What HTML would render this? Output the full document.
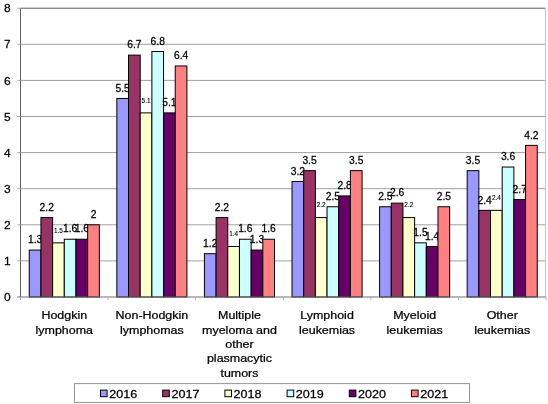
<!DOCTYPE html>
<html><head><meta charset="utf-8"><title>Chart</title>
<style>html,body{margin:0;padding:0;background:#fff}svg{display:block}</style></head>
<body>
<svg width="548" height="404" viewBox="0 0 548 404" font-family="'Liberation Sans', sans-serif" fill="#000" stroke="#000" stroke-width="0">
<rect width="548" height="404" fill="#fff"/>
<line x1="20.5" y1="260.90" x2="545.5" y2="260.90" stroke="#a0a0a0" stroke-width="1"/>
<line x1="20.5" y1="224.80" x2="545.5" y2="224.80" stroke="#a0a0a0" stroke-width="1"/>
<line x1="20.5" y1="188.70" x2="545.5" y2="188.70" stroke="#a0a0a0" stroke-width="1"/>
<line x1="20.5" y1="152.60" x2="545.5" y2="152.60" stroke="#a0a0a0" stroke-width="1"/>
<line x1="20.5" y1="116.50" x2="545.5" y2="116.50" stroke="#a0a0a0" stroke-width="1"/>
<line x1="20.5" y1="80.40" x2="545.5" y2="80.40" stroke="#a0a0a0" stroke-width="1"/>
<line x1="20.5" y1="44.30" x2="545.5" y2="44.30" stroke="#a0a0a0" stroke-width="1"/>
<line x1="20.5" y1="8.20" x2="545.5" y2="8.20" stroke="#606060" stroke-width="1"/>
<line x1="545.5" y1="8.20" x2="545.5" y2="297.00" stroke="#c4c4c4" stroke-width="1"/>
<rect x="29.26" y="250.07" width="11.68" height="46.93" fill="#9999FF" stroke="#000" stroke-width="1"/>
<rect x="116.84" y="98.45" width="11.68" height="198.55" fill="#9999FF" stroke="#000" stroke-width="1"/>
<rect x="204.42" y="253.68" width="11.68" height="43.32" fill="#9999FF" stroke="#000" stroke-width="1"/>
<rect x="292.01" y="181.48" width="11.68" height="115.52" fill="#9999FF" stroke="#000" stroke-width="1"/>
<rect x="379.59" y="206.75" width="11.68" height="90.25" fill="#9999FF" stroke="#000" stroke-width="1"/>
<rect x="467.17" y="170.65" width="11.68" height="126.35" fill="#9999FF" stroke="#000" stroke-width="1"/>
<text transform="translate(35.10,243.27) scale(1.02,1)" font-size="10.1" stroke-width="0.25" text-anchor="middle">1.3</text>
<text transform="translate(122.68,91.65) scale(1.02,1)" font-size="10.1" stroke-width="0.25" text-anchor="middle">5.5</text>
<text transform="translate(210.26,246.88) scale(1.02,1)" font-size="10.1" stroke-width="0.25" text-anchor="middle">1.2</text>
<text transform="translate(297.85,174.68) scale(1.02,1)" font-size="10.1" stroke-width="0.25" text-anchor="middle">3.2</text>
<text transform="translate(385.43,199.95) scale(1.02,1)" font-size="10.1" stroke-width="0.25" text-anchor="middle">2.5</text>
<text transform="translate(473.01,163.85) scale(1.02,1)" font-size="10.1" stroke-width="0.25" text-anchor="middle">3.5</text>
<rect x="40.94" y="217.58" width="11.68" height="79.42" fill="#993366" stroke="#000" stroke-width="1"/>
<rect x="128.52" y="55.13" width="11.68" height="241.87" fill="#993366" stroke="#000" stroke-width="1"/>
<rect x="216.10" y="217.58" width="11.68" height="79.42" fill="#993366" stroke="#000" stroke-width="1"/>
<rect x="303.69" y="170.65" width="11.68" height="126.35" fill="#993366" stroke="#000" stroke-width="1"/>
<rect x="391.27" y="203.14" width="11.68" height="93.86" fill="#993366" stroke="#000" stroke-width="1"/>
<rect x="478.85" y="210.36" width="11.68" height="86.64" fill="#993366" stroke="#000" stroke-width="1"/>
<text transform="translate(46.77,210.78) scale(1.02,1)" font-size="10.1" stroke-width="0.25" text-anchor="middle">2.2</text>
<text transform="translate(134.36,48.33) scale(1.02,1)" font-size="10.1" stroke-width="0.25" text-anchor="middle">6.7</text>
<text transform="translate(221.94,210.78) scale(1.02,1)" font-size="10.1" stroke-width="0.25" text-anchor="middle">2.2</text>
<text transform="translate(309.53,163.85) scale(1.02,1)" font-size="10.1" stroke-width="0.25" text-anchor="middle">3.5</text>
<text transform="translate(397.11,196.34) scale(1.02,1)" font-size="10.1" stroke-width="0.25" text-anchor="middle">2.6</text>
<text transform="translate(484.69,203.56) scale(1.02,1)" font-size="10.1" stroke-width="0.25" text-anchor="middle">2.4</text>
<rect x="52.61" y="242.85" width="11.68" height="54.15" fill="#FFFFCC" stroke="#000" stroke-width="1"/>
<rect x="140.20" y="112.89" width="11.68" height="184.11" fill="#FFFFCC" stroke="#000" stroke-width="1"/>
<rect x="227.78" y="246.46" width="11.68" height="50.54" fill="#FFFFCC" stroke="#000" stroke-width="1"/>
<rect x="315.36" y="217.58" width="11.68" height="79.42" fill="#FFFFCC" stroke="#000" stroke-width="1"/>
<rect x="402.95" y="217.58" width="11.68" height="79.42" fill="#FFFFCC" stroke="#000" stroke-width="1"/>
<rect x="490.53" y="210.36" width="11.68" height="86.64" fill="#FFFFCC" stroke="#000" stroke-width="1"/>
<text transform="translate(58.45,232.55) scale(1.02,1)" font-size="6.3" stroke-width="0.1" text-anchor="middle">1.5</text>
<text transform="translate(146.04,102.59) scale(1.02,1)" font-size="6.3" stroke-width="0.1" text-anchor="middle">5.1</text>
<text transform="translate(233.62,236.16) scale(1.02,1)" font-size="6.3" stroke-width="0.1" text-anchor="middle">1.4</text>
<text transform="translate(321.20,207.28) scale(1.02,1)" font-size="6.3" stroke-width="0.1" text-anchor="middle">2.2</text>
<text transform="translate(408.79,207.28) scale(1.02,1)" font-size="6.3" stroke-width="0.1" text-anchor="middle">2.2</text>
<text transform="translate(496.37,200.06) scale(1.02,1)" font-size="6.3" stroke-width="0.1" text-anchor="middle">2.4</text>
<rect x="64.29" y="239.24" width="11.68" height="57.76" fill="#CCFFFF" stroke="#000" stroke-width="1"/>
<rect x="151.88" y="51.52" width="11.68" height="245.48" fill="#CCFFFF" stroke="#000" stroke-width="1"/>
<rect x="239.46" y="239.24" width="11.68" height="57.76" fill="#CCFFFF" stroke="#000" stroke-width="1"/>
<rect x="327.04" y="206.75" width="11.68" height="90.25" fill="#CCFFFF" stroke="#000" stroke-width="1"/>
<rect x="414.62" y="242.85" width="11.68" height="54.15" fill="#CCFFFF" stroke="#000" stroke-width="1"/>
<rect x="502.21" y="167.04" width="11.68" height="129.96" fill="#CCFFFF" stroke="#000" stroke-width="1"/>
<text transform="translate(70.13,232.44) scale(1.02,1)" font-size="10.1" stroke-width="0.25" text-anchor="middle">1.6</text>
<text transform="translate(157.71,44.72) scale(1.02,1)" font-size="10.1" stroke-width="0.25" text-anchor="middle">6.8</text>
<text transform="translate(245.30,232.44) scale(1.02,1)" font-size="10.1" stroke-width="0.25" text-anchor="middle">1.6</text>
<text transform="translate(332.88,199.95) scale(1.02,1)" font-size="10.1" stroke-width="0.25" text-anchor="middle">2.5</text>
<text transform="translate(420.46,236.05) scale(1.02,1)" font-size="10.1" stroke-width="0.25" text-anchor="middle">1.5</text>
<text transform="translate(508.05,160.24) scale(1.02,1)" font-size="10.1" stroke-width="0.25" text-anchor="middle">3.6</text>
<rect x="75.97" y="239.24" width="11.68" height="57.76" fill="#660066" stroke="#000" stroke-width="1"/>
<rect x="163.55" y="112.89" width="11.68" height="184.11" fill="#660066" stroke="#000" stroke-width="1"/>
<rect x="251.14" y="250.07" width="11.68" height="46.93" fill="#660066" stroke="#000" stroke-width="1"/>
<rect x="338.72" y="195.92" width="11.68" height="101.08" fill="#660066" stroke="#000" stroke-width="1"/>
<rect x="426.30" y="246.46" width="11.68" height="50.54" fill="#660066" stroke="#000" stroke-width="1"/>
<rect x="513.89" y="199.53" width="11.68" height="97.47" fill="#660066" stroke="#000" stroke-width="1"/>
<text transform="translate(81.81,232.44) scale(1.02,1)" font-size="10.1" stroke-width="0.25" text-anchor="middle">1.6</text>
<text transform="translate(169.39,106.09) scale(1.02,1)" font-size="10.1" stroke-width="0.25" text-anchor="middle">5.1</text>
<text transform="translate(256.97,243.27) scale(1.02,1)" font-size="10.1" stroke-width="0.25" text-anchor="middle">1.3</text>
<text transform="translate(344.56,189.12) scale(1.02,1)" font-size="10.1" stroke-width="0.25" text-anchor="middle">2.8</text>
<text transform="translate(432.14,239.66) scale(1.02,1)" font-size="10.1" stroke-width="0.25" text-anchor="middle">1.4</text>
<text transform="translate(519.72,192.73) scale(1.02,1)" font-size="10.1" stroke-width="0.25" text-anchor="middle">2.7</text>
<rect x="87.65" y="224.80" width="11.68" height="72.20" fill="#FF8080" stroke="#000" stroke-width="1"/>
<rect x="175.23" y="65.96" width="11.68" height="231.04" fill="#FF8080" stroke="#000" stroke-width="1"/>
<rect x="262.81" y="239.24" width="11.68" height="57.76" fill="#FF8080" stroke="#000" stroke-width="1"/>
<rect x="350.40" y="170.65" width="11.68" height="126.35" fill="#FF8080" stroke="#000" stroke-width="1"/>
<rect x="437.98" y="206.75" width="11.68" height="90.25" fill="#FF8080" stroke="#000" stroke-width="1"/>
<rect x="525.56" y="145.38" width="11.68" height="151.62" fill="#FF8080" stroke="#000" stroke-width="1"/>
<text transform="translate(93.49,218.00) scale(1.02,1)" font-size="10.1" stroke-width="0.25" text-anchor="middle">2</text>
<text transform="translate(181.07,59.16) scale(1.02,1)" font-size="10.1" stroke-width="0.25" text-anchor="middle">6.4</text>
<text transform="translate(268.65,232.44) scale(1.02,1)" font-size="10.1" stroke-width="0.25" text-anchor="middle">1.6</text>
<text transform="translate(356.24,163.85) scale(1.02,1)" font-size="10.1" stroke-width="0.25" text-anchor="middle">3.5</text>
<text transform="translate(443.82,199.95) scale(1.02,1)" font-size="10.1" stroke-width="0.25" text-anchor="middle">2.5</text>
<text transform="translate(531.40,138.58) scale(1.02,1)" font-size="10.1" stroke-width="0.25" text-anchor="middle">4.2</text>
<line x1="20.5" y1="8.20" x2="20.5" y2="300.00" stroke="#606060" stroke-width="1"/>
<line x1="17.5" y1="297.00" x2="545.5" y2="297.00" stroke="#707070" stroke-width="1"/>
<line x1="17.3" y1="297.00" x2="20.5" y2="297.00" stroke="#b0b0b0" stroke-width="1"/>
<text transform="translate(7.30,301.10) scale(1.04,1)" font-size="11.5" stroke-width="0.25" text-anchor="middle">0</text>
<line x1="17.3" y1="260.90" x2="20.5" y2="260.90" stroke="#b0b0b0" stroke-width="1"/>
<text transform="translate(7.30,265.00) scale(1.04,1)" font-size="11.5" stroke-width="0.25" text-anchor="middle">1</text>
<line x1="17.3" y1="224.80" x2="20.5" y2="224.80" stroke="#b0b0b0" stroke-width="1"/>
<text transform="translate(7.30,228.90) scale(1.04,1)" font-size="11.5" stroke-width="0.25" text-anchor="middle">2</text>
<line x1="17.3" y1="188.70" x2="20.5" y2="188.70" stroke="#b0b0b0" stroke-width="1"/>
<text transform="translate(7.30,192.80) scale(1.04,1)" font-size="11.5" stroke-width="0.25" text-anchor="middle">3</text>
<line x1="17.3" y1="152.60" x2="20.5" y2="152.60" stroke="#b0b0b0" stroke-width="1"/>
<text transform="translate(7.30,156.70) scale(1.04,1)" font-size="11.5" stroke-width="0.25" text-anchor="middle">4</text>
<line x1="17.3" y1="116.50" x2="20.5" y2="116.50" stroke="#b0b0b0" stroke-width="1"/>
<text transform="translate(7.30,120.60) scale(1.04,1)" font-size="11.5" stroke-width="0.25" text-anchor="middle">5</text>
<line x1="17.3" y1="80.40" x2="20.5" y2="80.40" stroke="#b0b0b0" stroke-width="1"/>
<text transform="translate(7.30,84.50) scale(1.04,1)" font-size="11.5" stroke-width="0.25" text-anchor="middle">6</text>
<line x1="17.3" y1="44.30" x2="20.5" y2="44.30" stroke="#b0b0b0" stroke-width="1"/>
<text transform="translate(7.30,48.40) scale(1.04,1)" font-size="11.5" stroke-width="0.25" text-anchor="middle">7</text>
<line x1="17.3" y1="8.20" x2="20.5" y2="8.20" stroke="#b0b0b0" stroke-width="1"/>
<text transform="translate(7.30,12.30) scale(1.04,1)" font-size="11.5" stroke-width="0.25" text-anchor="middle">8</text>
<line x1="20.50" y1="297.00" x2="20.50" y2="300.20" stroke="#b0b0b0" stroke-width="1"/>
<line x1="108.08" y1="297.00" x2="108.08" y2="300.20" stroke="#b0b0b0" stroke-width="1"/>
<line x1="195.67" y1="297.00" x2="195.67" y2="300.20" stroke="#b0b0b0" stroke-width="1"/>
<line x1="283.25" y1="297.00" x2="283.25" y2="300.20" stroke="#b0b0b0" stroke-width="1"/>
<line x1="370.83" y1="297.00" x2="370.83" y2="300.20" stroke="#b0b0b0" stroke-width="1"/>
<line x1="458.42" y1="297.00" x2="458.42" y2="300.20" stroke="#b0b0b0" stroke-width="1"/>
<line x1="546.00" y1="297.00" x2="546.00" y2="300.20" stroke="#b0b0b0" stroke-width="1"/>
<text transform="translate(64.29,319.30) scale(1.065,1)" font-size="11.7" stroke-width="0.25" text-anchor="middle">Hodgkin</text>
<text transform="translate(64.29,333.60) scale(1.065,1)" font-size="11.7" stroke-width="0.25" text-anchor="middle">lymphoma</text>
<text transform="translate(151.88,319.30) scale(1.065,1)" font-size="11.7" stroke-width="0.25" text-anchor="middle">Non-Hodgkin</text>
<text transform="translate(151.88,333.60) scale(1.065,1)" font-size="11.7" stroke-width="0.25" text-anchor="middle">lymphomas</text>
<text transform="translate(239.46,319.30) scale(1.065,1)" font-size="11.7" stroke-width="0.25" text-anchor="middle">Multiple</text>
<text transform="translate(239.46,333.60) scale(1.065,1)" font-size="11.7" stroke-width="0.25" text-anchor="middle">myeloma and</text>
<text transform="translate(239.46,347.90) scale(1.065,1)" font-size="11.7" stroke-width="0.25" text-anchor="middle">other</text>
<text transform="translate(239.46,362.20) scale(1.065,1)" font-size="11.7" stroke-width="0.25" text-anchor="middle">plasmacytic</text>
<text transform="translate(239.46,376.50) scale(1.065,1)" font-size="11.7" stroke-width="0.25" text-anchor="middle">tumors</text>
<text transform="translate(327.04,319.30) scale(1.065,1)" font-size="11.7" stroke-width="0.25" text-anchor="middle">Lymphoid</text>
<text transform="translate(327.04,333.60) scale(1.065,1)" font-size="11.7" stroke-width="0.25" text-anchor="middle">leukemias</text>
<text transform="translate(414.62,319.30) scale(1.065,1)" font-size="11.7" stroke-width="0.25" text-anchor="middle">Myeloid</text>
<text transform="translate(414.62,333.60) scale(1.065,1)" font-size="11.7" stroke-width="0.25" text-anchor="middle">leukemias</text>
<text transform="translate(502.21,319.30) scale(1.065,1)" font-size="11.7" stroke-width="0.25" text-anchor="middle">Other</text>
<text transform="translate(502.21,333.60) scale(1.065,1)" font-size="11.7" stroke-width="0.25" text-anchor="middle">leukemias</text>
<rect x="74.5" y="383.6" width="395" height="18.9" fill="#fff" stroke="#969696" stroke-width="1"/>
<rect x="100.50" y="390.1" width="6.6" height="6.6" fill="#9999FF" stroke="#000" stroke-width="1"/>
<text transform="translate(109.20,397.80) scale(1.086,1)" font-size="11.6" stroke-width="0.25" text-anchor="start">2016</text>
<rect x="162.70" y="390.1" width="6.6" height="6.6" fill="#993366" stroke="#000" stroke-width="1"/>
<text transform="translate(171.40,397.80) scale(1.086,1)" font-size="11.6" stroke-width="0.25" text-anchor="start">2017</text>
<rect x="224.90" y="390.1" width="6.6" height="6.6" fill="#FFFFCC" stroke="#000" stroke-width="1"/>
<text transform="translate(233.60,397.80) scale(1.086,1)" font-size="11.6" stroke-width="0.25" text-anchor="start">2018</text>
<rect x="287.10" y="390.1" width="6.6" height="6.6" fill="#CCFFFF" stroke="#000" stroke-width="1"/>
<text transform="translate(295.80,397.80) scale(1.086,1)" font-size="11.6" stroke-width="0.25" text-anchor="start">2019</text>
<rect x="349.30" y="390.1" width="6.6" height="6.6" fill="#660066" stroke="#000" stroke-width="1"/>
<text transform="translate(358.00,397.80) scale(1.086,1)" font-size="11.6" stroke-width="0.25" text-anchor="start">2020</text>
<rect x="411.50" y="390.1" width="6.6" height="6.6" fill="#FF8080" stroke="#000" stroke-width="1"/>
<text transform="translate(420.20,397.80) scale(1.086,1)" font-size="11.6" stroke-width="0.25" text-anchor="start">2021</text>
</svg>
</body></html>
